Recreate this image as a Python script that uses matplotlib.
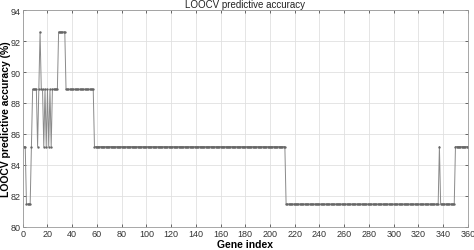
import matplotlib.pyplot as plt
import numpy as np

# accuracy levels (out of 27 samples) and run lengths along the gene index
run_values = [85.19, 81.48, 85.19, 88.89, 85.19, 88.89, 92.59, 88.89, 85.19, 88.89,
              85.19, 88.89, 85.19, 88.89, 85.19, 88.89, 92.59, 88.89, 85.19, 81.48,
              85.19, 81.48, 85.19]
run_lengths = [2, 4, 1, 4, 1, 1, 1, 2, 1, 1,
               1, 1, 1, 1, 1, 5, 6, 23, 155, 124,
               1, 12, 11]
x_ticks = list(range(0, 361, 20))
y_ticks = list(range(80, 95, 2))

acc = np.repeat(run_values, run_lengths)
genes = np.arange(1, len(acc) + 1)

plt.rcParams['font.family'] = ['Liberation Sans', 'DejaVu Sans']

fig = plt.figure(figsize=(4.74, 2.51), dpi=100)
ax = fig.add_axes([0.048, 0.092, 0.939, 0.864])

ax.plot(genes, acc, color='#8a8a8a', lw=0.7, marker='.', markersize=1.4,
        markeredgecolor='#666666', markerfacecolor='#666666')

ax.set_xlim(0, 360)
ax.set_ylim(80, 94)
ax.set_xticks(x_ticks)
ax.set_yticks(y_ticks)
ax.grid(True, color='#e0e0e0', lw=0.6)
ax.tick_params(direction='in', top=True, right=True, labelsize=6.5,
               length=2.5, width=0.5, pad=1.5, colors='#333333')
for s in ax.spines.values():
    s.set_color('#999999')
    s.set_linewidth(0.6)

ax.set_title('LOOCV predictive accuracy', fontsize=7, pad=2, color='#222222')
ax.set_xlabel('Gene index', fontsize=7.5, fontweight='bold', labelpad=1)
ax.set_ylabel('LOOCV predictive accuracy (%)', fontsize=7.5, fontweight='bold', labelpad=0)

plt.savefig('out.png', dpi=100)
plt.close()
